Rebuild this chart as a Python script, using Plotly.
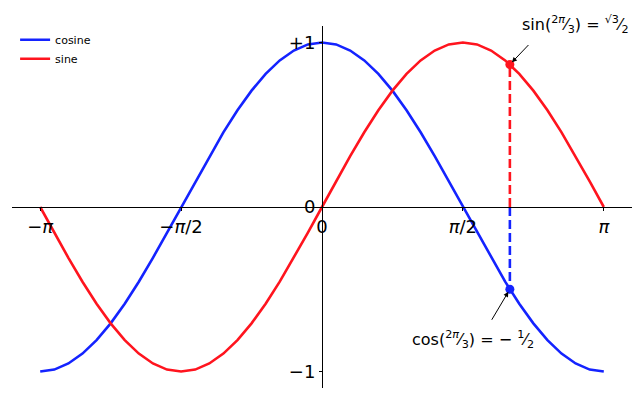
"""Cosine and sine curves with annotated point at 2π/3, drawn with Plotly."""

import plotly.graph_objects as go

# sample positions (−π .. π)
x_vals = [-3.1416, -2.9845, -2.8274, -2.6704, -2.5133, -2.3562, -2.1991, -2.0420,
          -1.8850, -1.7279, -1.5708, -1.4137, -1.2566, -1.0996, -0.9425, -0.7854,
          -0.6283, -0.4712, -0.3142, -0.1571, 0.0, 0.1571, 0.3142, 0.4712, 0.6283,
          0.7854, 0.9425, 1.0996, 1.2566, 1.4137, 1.5708, 1.7279, 1.8850, 2.0420,
          2.1991, 2.3562, 2.5133, 2.6704, 2.8274, 2.9845, 3.1416]
cosine_vals = [-1.000, -0.988, -0.951, -0.891, -0.809, -0.707, -0.588, -0.454,
               -0.309, -0.156, 0.000, 0.156, 0.309, 0.454, 0.588, 0.707, 0.809,
               0.891, 0.951, 0.988, 1.000, 0.988, 0.951, 0.891, 0.809, 0.707,
               0.588, 0.454, 0.309, 0.156, 0.000, -0.156, -0.309, -0.454, -0.588,
               -0.707, -0.809, -0.891, -0.951, -0.988, -1.000]
sine_vals = [0.000, -0.156, -0.309, -0.454, -0.588, -0.707, -0.809, -0.891,
             -0.951, -0.988, -1.000, -0.988, -0.951, -0.891, -0.809, -0.707,
             -0.588, -0.454, -0.309, -0.156, 0.000, 0.156, 0.309, 0.454, 0.588,
             0.707, 0.809, 0.891, 0.951, 0.988, 1.000, 0.988, 0.951, 0.891,
             0.809, 0.707, 0.588, 0.454, 0.309, 0.156, 0.000]

# highlighted point t = 2π/3
t_point = 2.0944
cos_t = -0.5
sin_t = 0.866

x_ticks = [-3.1416, -1.5708, 0.0, 1.5708, 3.1416]
x_tick_labels = ["\u2212<i>\u03c0</i>", "\u2212<i>\u03c0</i>/2", "0", "<i>\u03c0</i>/2", "<i>\u03c0</i>"]
y_ticks = [-1, 0, 1]
y_tick_labels = ["\u22121", "0", "+1"]

BLUE = "rgb(20,35,255)"
RED = "rgb(255,20,30)"
FONT = "DejaVu Sans"

fig = go.Figure()

fig.add_trace(go.Scatter(x=x_vals, y=cosine_vals, mode="lines", name="cosine",
                         line=dict(color=BLUE, width=2.6)))
fig.add_trace(go.Scatter(x=x_vals, y=sine_vals, mode="lines", name="sine",
                         line=dict(color=RED, width=2.6)))

# dashed drop lines from the axis to each curve
fig.add_trace(go.Scatter(x=[t_point, t_point], y=[0, cos_t], mode="lines", showlegend=False,
                         line=dict(color=BLUE, width=2.6, dash="9px,4px")))
fig.add_trace(go.Scatter(x=[t_point, t_point], y=[0, sin_t], mode="lines", showlegend=False,
                         line=dict(color=RED, width=2.6, dash="9px,4px")))
fig.add_trace(go.Scatter(x=[t_point], y=[cos_t], mode="markers", showlegend=False,
                         marker=dict(color=BLUE, size=9)))
fig.add_trace(go.Scatter(x=[t_point], y=[sin_t], mode="markers", showlegend=False,
                         marker=dict(color=RED, size=9)))

# annotation texts (paper coords, the sin label sits above the axis range)
fig.add_annotation(x=0.819, y=1.003, xref="paper", yref="paper", xanchor="left", yanchor="middle",
                   showarrow=False, font=dict(size=16, family=FONT, color="black"),
                   text="sin(<sup>2<i>\u03c0</i></sup>\u2044<sub>3</sub>) = <sup>\u221a3</sup>\u2044<sub>2</sub>")
fig.add_annotation(x=0.642, y=0.133, xref="paper", yref="paper", xanchor="left", yanchor="middle",
                   showarrow=False, font=dict(size=16, family=FONT, color="black"),
                   text="cos(<sup>2<i>\u03c0</i></sup>\u2044<sub>3</sub>) = \u2212 <sup>1</sup>\u2044<sub>2</sub>")
# arrows
fig.add_annotation(x=t_point, y=sin_t, ax=20, ay=-21, text="", showarrow=True,
                   arrowhead=2, arrowsize=1, arrowwidth=1, arrowcolor="black", standoff=3)
fig.add_annotation(x=t_point, y=cos_t, ax=-19, ay=32, text="", showarrow=True,
                   arrowhead=2, arrowsize=1, arrowwidth=1, arrowcolor="black", standoff=3)

# the page puts the figure 8px in from the top-left corner, so sizes are trimmed to match
fig.update_layout(
    width=627,
    height=384,
    margin=dict(l=4, r=3, t=18, b=4),
    paper_bgcolor="white",
    plot_bgcolor="white",
    font=dict(family=FONT, color="black"),
    showlegend=True,
    legend=dict(x=0.005, y=1.002, xanchor="left", yanchor="top",
                font=dict(size=11, family=FONT), bgcolor="rgba(0,0,0,0)"),
    xaxis=dict(range=[-3.456, 3.456], anchor="free", position=0.5,
               showline=True, linecolor="black", linewidth=1, showgrid=False, zeroline=False,
               tickmode="array", tickvals=x_ticks, ticktext=x_tick_labels,
               ticks="outside", ticklen=3, tickcolor="black",
               tickfont=dict(size=18, family=FONT)),
    yaxis=dict(range=[-1.1, 1.1], anchor="free", position=0.5,
               showline=True, linecolor="black", linewidth=1, showgrid=False, zeroline=False,
               tickmode="array", tickvals=y_ticks, ticktext=y_tick_labels,
               ticks="outside", ticklen=3, tickcolor="black",
               tickfont=dict(size=18, family=FONT)),
)

fig.write_html("out.html")
